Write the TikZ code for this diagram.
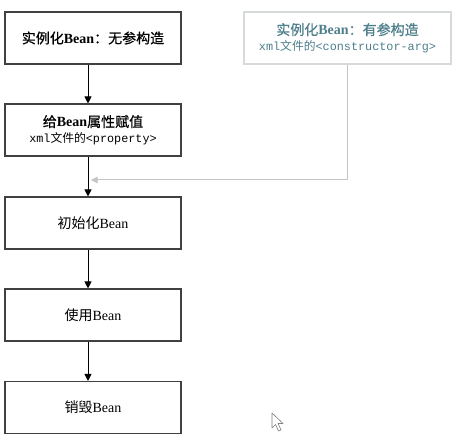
\documentclass[tikz,border=0pt]{standalone}
\usepackage{fontspec}
\setmainfont{Liberation Serif}
\setmonofont{Liberation Mono}
\newfontfamily\cjk{Noto Sans CJK SC}
\newfontfamily\cjkm[FakeBold=0.5]{Noto Sans CJK SC}
\usetikzlibrary{arrows.meta}
\definecolor{boxline}{HTML}{404040}
\definecolor{paleline}{HTML}{D6DADA}
\definecolor{paletext}{HTML}{4E7F8C}
\definecolor{graylink}{HTML}{C4C4C4}
\tikzset{
  stagebox/.style={draw=boxline, line width=1.1pt, minimum width=176pt, minimum height=52pt, inner sep=0pt, align=center, font=\fontsize{14}{16.5}\selectfont},
  altbox/.style={draw=paleline, line width=1.1pt, minimum width=207pt, minimum height=52pt, inner sep=0pt, align=center, text=paletext, font=\fontsize{14}{16.5}\selectfont},
  flow/.style={draw=black, line width=0.9pt, -{Triangle[length=7pt,width=7pt]}},
  altflow/.style={draw=graylink, line width=1pt, -{Triangle[length=6.5pt,width=6.5pt]}}
}
\newcommand{\subline}[1]{{\fontsize{11.8}{16}\selectfont #1}}
\begin{document}
\begin{tikzpicture}[x=1pt,y=-1pt]
\useasboundingbox[fill=white] (0,0) rectangle (474,446);
\node[stagebox] (b1) at (93,38) {{\cjkm 实例化}\textbf{Bean}{\cjkm ：无参构造}};
\node[stagebox] (b2) at (93,130) {{\cjkm 给}\textbf{Bean}{\cjkm 属性赋值}\\[-1pt]\subline{\texttt{xml}{\cjk 文件的}\texttt{<property>}}};
\node[stagebox] (b3) at (93,223) {{\cjk 初始化}Bean};
\node[stagebox] (b4) at (93,315) {{\cjk 使用}Bean};
\node[stagebox] (b5) at (93,407.5) {{\cjk 销毁}Bean};
\node[altbox] (r1) at (347.5,38) {{\cjkm 实例化}\textbf{Bean}{\cjkm ：有参构造}\\[-1pt]\subline{\texttt{xml}{\cjk 文件的}\texttt{<constructor-arg>}}};
\coordinate (join) at (88,180);
\draw[flow] ([xshift=-5pt]b1.south) -- ([xshift=-5pt]b2.north);
\draw[flow] ([xshift=-5pt]b2.south) -- ([xshift=-5pt]b3.north);
\draw[flow] ([xshift=-5pt]b3.south) -- ([xshift=-5pt]b4.north);
\draw[flow] ([xshift=-5pt]b4.south) -- ([xshift=-5pt]b5.north);
\draw[altflow] (r1.south -| 347,0) |- ([xshift=3pt]join);
% cursor
\draw[gray, line width=0.6pt, fill=white, line join=round] (272,413) -- (272,428) -- (275.5,424.5) -- (278.5,431) -- (281,430) -- (278,423.5) -- (283,423.5) -- cycle;
\end{tikzpicture}
\end{document}
